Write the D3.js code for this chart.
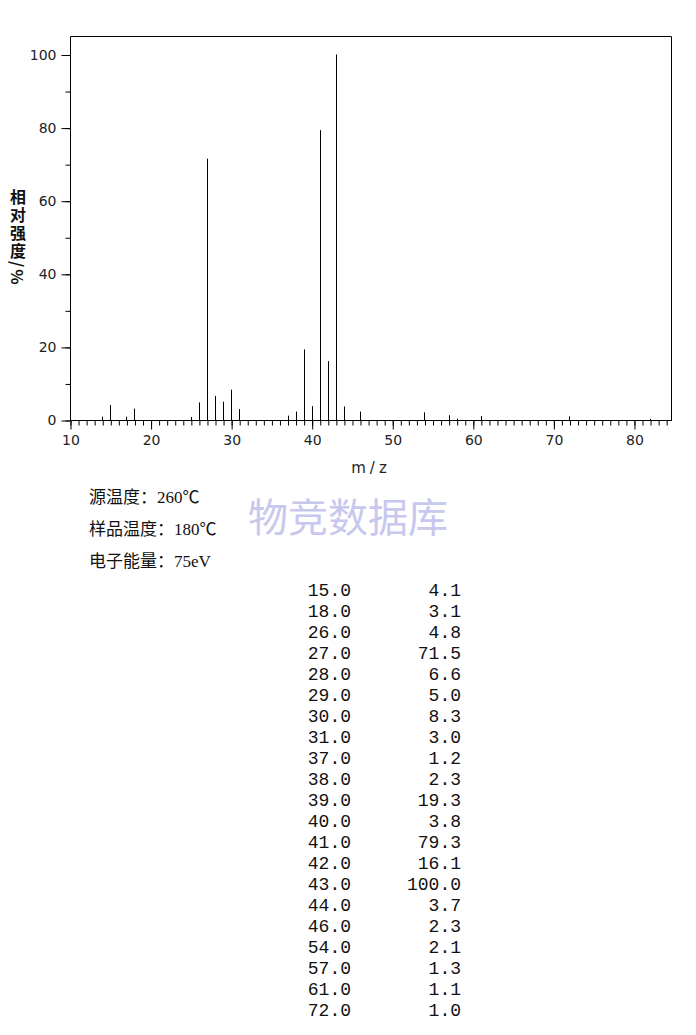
<!DOCTYPE html>
<html>
<head>
<meta charset="utf-8">
<script src="https://cdn.jsdelivr.net/npm/d3@7"></script>
<style>
  html, body { margin: 0; padding: 0; background: #fff; }
  svg { display: block; }
</style>
</head>
<body>
<svg id="chart" width="696" height="1035"></svg>
<script>
// ---- data ----
const mz =        [14, 15, 17, 18, 25, 26, 27, 28, 29, 30, 31, 37, 38, 39, 40, 41, 42, 43, 44, 46, 54, 57, 58, 61, 72, 82];
const intensity = [0.9, 4.1, 0.9, 3.1, 0.8, 4.8, 71.5, 6.6, 5.0, 8.3, 3.0, 1.2, 2.3, 19.3, 3.8, 79.3, 16.1, 100.0, 3.7, 2.3, 2.1, 1.3, 0.4, 1.1, 1.0, 0.3];
const tableMz =    ["15.0","18.0","26.0","27.0","28.0","29.0","30.0","31.0","37.0","38.0","39.0","40.0","41.0","42.0","43.0","44.0","46.0","54.0","57.0","61.0","72.0"];
const tableInt =   ["4.1","3.1","4.8","71.5","6.6","5.0","8.3","3.0","1.2","2.3","19.3","3.8","79.3","16.1","100.0","3.7","2.3","2.1","1.3","1.1","1.0"];
const xTickLabels = [10, 20, 30, 40, 50, 60, 70, 80];
const yTickLabels = [0, 20, 40, 60, 80, 100];
const infoLines = ["源温度：260℃", "样品温度：180℃", "电子能量：75eV"];
const yAxisTitle = "相对强度/%";
const xAxisTitle = "m/z";
const watermark = "物竞数据库";

// ---- layout ----
const svg = d3.select("#chart");
const pLeft = 70, pRight = 671, pTop = 36, pBottom = 420;
const x = d3.scaleLinear().domain([10, 84.6]).range([pLeft, pRight]);
const y = d3.scaleLinear().domain([0, 100]).range([pBottom, 54.5]);

// frame (top, right, left)
svg.append("path")
  .attr("d", `M${pLeft+0.5},${pBottom} V${pTop+0.5} H${pRight+0.5} V${pBottom}`)
  .attr("fill", "none").attr("stroke", "#000").attr("stroke-width", 1);

// x axis: minor ticks each unit, major each 10
const gx = svg.append("g").attr("transform", `translate(0.5,${pBottom + 0.5})`);
gx.call(d3.axisBottom(x).tickValues(d3.range(10, 85, 1)).tickSize(5).tickFormat(""))
  .call(g => g.select(".domain").remove());
gx.append("g").call(d3.axisBottom(x).tickValues(xTickLabels).tickSize(9).tickPadding(6).tickFormat(d3.format("d")))
  .call(g => g.select(".domain").remove());
gx.selectAll("line").attr("stroke", "#000");
gx.selectAll("text").attr("font-family", "DejaVu Sans").attr("font-size", 14).attr("fill", "#222");
// baseline
svg.append("line").attr("x1", pLeft).attr("x2", pRight + 1).attr("y1", pBottom + 0.5).attr("y2", pBottom + 0.5)
  .attr("stroke", "#000");

// y axis
const gy = svg.append("g").attr("transform", `translate(${pLeft + 0.5},0.5)`);
gy.call(d3.axisLeft(y).tickValues(d3.range(0, 101, 10)).tickSize(5).tickFormat(""))
  .call(g => g.select(".domain").remove());
gy.append("g").call(d3.axisLeft(y).tickValues(yTickLabels).tickSize(9).tickPadding(5).tickFormat(d3.format("d")))
  .call(g => g.select(".domain").remove());
gy.selectAll("line").attr("stroke", "#000");
gy.selectAll("text").attr("font-family", "DejaVu Sans").attr("font-size", 14).attr("fill", "#222");

// bars
svg.append("g").selectAll("line").data(mz).join("line")
  .attr("x1", d => Math.round(x(d)) + 0.5).attr("x2", d => Math.round(x(d)) + 0.5)
  .attr("y1", pBottom).attr("y2", (d, i) => y(intensity[i]))
  .attr("stroke", "#000").attr("stroke-width", 1);

// axis titles
svg.append("text").text(yAxisTitle)
  .attr("x", 18).attr("y", 189)
  .style("writing-mode", "vertical-rl")
  .attr("letter-spacing", 2)
  .attr("font-family", "Noto Sans CJK SC").attr("font-size", 16).attr("font-weight", "bold")
  .attr("fill", "#111");
svg.append("text").text(xAxisTitle)
  .attr("x", 371).attr("y", 473).attr("text-anchor", "middle")
  .attr("font-family", "DejaVu Sans").attr("font-size", 15).attr("letter-spacing", 4)
  .attr("fill", "#222");

// info lines
svg.append("g").selectAll("text").data(infoLines).join("text")
  .text(d => d)
  .attr("x", 89).attr("y", (d, i) => 503 + i * 32)
  .attr("font-family", "'Liberation Serif', 'Noto Sans CJK SC'").attr("font-size", 17)
  .attr("fill", "#111");

// watermark
svg.append("text").text(watermark)
  .attr("x", 348).attr("y", 532).attr("text-anchor", "middle")
  .attr("font-family", "Noto Sans CJK SC").attr("font-size", 40)
  .attr("fill", "#c8c8ee");

// table
const tg = svg.append("g").attr("font-family", "Liberation Mono").attr("font-size", 18).attr("fill", "#111");
tg.selectAll("text.m").data(tableMz).join("text").attr("class", "m")
  .text(d => d).attr("x", 351).attr("y", (d, i) => 596 + i * 21).attr("text-anchor", "end");
tg.selectAll("text.v").data(tableInt).join("text").attr("class", "v")
  .text(d => d).attr("x", 461).attr("y", (d, i) => 596 + i * 21).attr("text-anchor", "end");
</script>
</body>
</html>
